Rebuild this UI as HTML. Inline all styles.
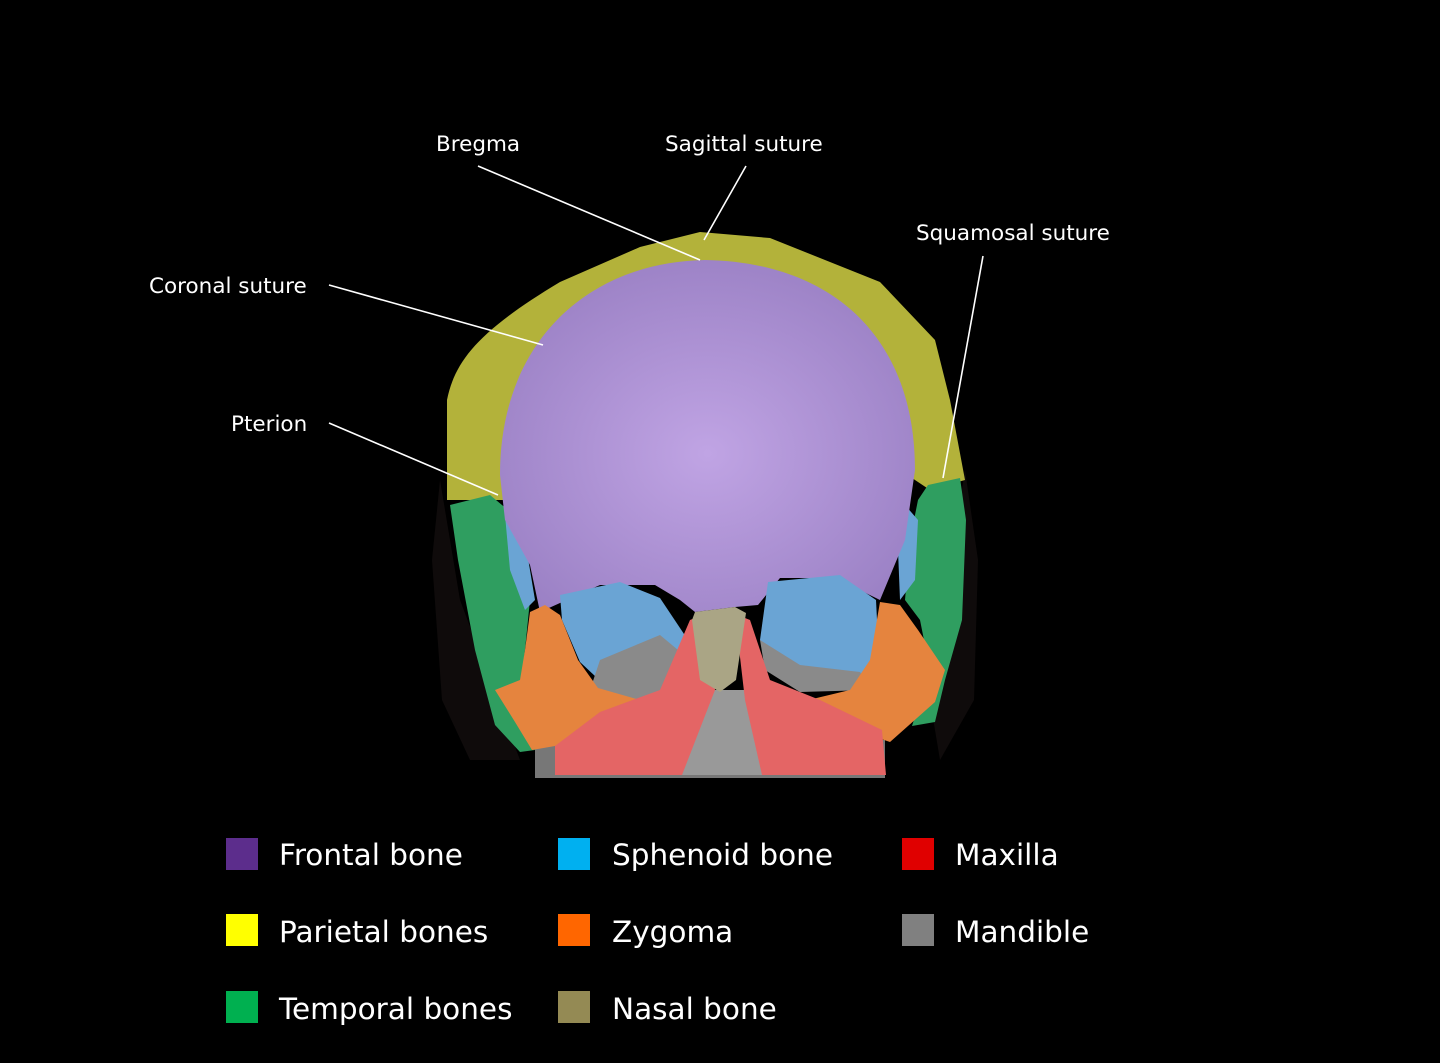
<!DOCTYPE html>
<html><head><style>
html,body{margin:0;padding:0;background:#000;}
svg{display:block}
text{font-family:"DejaVu Sans","Liberation Sans",sans-serif;fill:#fff}
</style></head><body>
<svg width="1440" height="1063" viewBox="0 0 1440 1063" xmlns="http://www.w3.org/2000/svg">
<defs>
<radialGradient id="pg" cx="0.5" cy="0.55" r="0.6">
<stop offset="0" stop-color="#c0a4e4"/><stop offset="1" stop-color="#9a80c4"/></radialGradient>
</defs>
<rect width="1440" height="1063" fill="#000"/>
<path d="M440,480 L432,560 L442,700 L470,760 L520,760 L460,600 Z" fill="#0f0b0b"/>
<path d="M965,470 L978,560 L974,700 L940,760 L930,700 Z" fill="#0f0b0b"/>
<rect x="535" y="740" width="350" height="38" fill="#777"/>
<!-- parietal -->
<path d="M447,500 L447,400 C455,360 480,330 560,282 L640,247 L700,232 L770,238 L880,282 L935,340 L950,400 L965,480 L930,490 L900,470 L520,500 Z" fill="#b3b23a"/>
<path d="M450,505 L490,495 L520,520 L530,600 L525,650 L520,690 L535,750 L520,752 L495,725 L475,650 L458,560 Z" fill="#2f9e60"/>
<path d="M928,485 L960,478 L966,520 L962,620 L945,680 L935,722 L912,726 L930,670 L920,620 L905,600 L910,540 L918,500 Z" fill="#2f9e60"/>
<path d="M505,515 L525,540 L535,600 L525,610 L510,570 Z" fill="#6aa4d4"/>
<path d="M905,505 L918,520 L915,580 L900,600 L898,550 Z" fill="#6aa4d4"/>
<!-- frontal -->
<path d="M500,475 C500,340 590,262 705,260 C830,262 915,335 915,470 L905,540 L880,600 L835,578 L780,578 L758,605 L735,607 L695,612 L680,600 L655,585 L600,585 L540,612 L530,565 L505,520 Z" fill="url(#pg)"/>
<path d="M560,595 L620,582 L660,598 L688,640 L670,682 L612,692 L580,662 L562,620 Z" fill="#6aa4d4"/>
<path d="M600,660 L660,635 L690,660 L680,700 L620,700 L590,690 Z" fill="#8a8a8a"/>
<path d="M768,582 L840,575 L876,600 L880,680 L842,690 L790,680 L760,640 Z" fill="#6aa4d4"/>
<path d="M760,640 L800,665 L860,672 L870,690 L800,692 L765,670 Z" fill="#8a8a8a"/>
<path d="M690,690 L755,690 L770,775 L680,775 Z" fill="#999"/>
<path d="M530,612 L545,605 L560,615 L578,660 L598,688 L640,700 L590,730 L555,746 L532,750 L515,722 L495,690 L520,680 L525,650 Z" fill="#e5843e"/>
<path d="M880,602 L900,605 L918,630 L945,670 L935,702 L890,742 L840,725 L800,702 L850,690 L870,660 Z" fill="#e5843e"/>
<path d="M555,746 L600,712 L660,690 L690,620 L705,614 L715,690 L682,775 L555,775 Z" fill="#e46565"/>
<path d="M735,614 L750,620 L770,680 L820,700 L882,730 L886,775 L762,775 L745,700 Z" fill="#e46565"/>
<path d="M695,612 L735,607 L746,613 L736,680 L720,692 L700,680 L692,620 Z" fill="#aaa585"/>
<g stroke="#fff" stroke-width="1.6" fill="none">
<line x1="478" y1="166" x2="700" y2="260"/>
<line x1="746" y1="166" x2="704" y2="240"/>
<line x1="983" y1="256" x2="943" y2="478"/>
<line x1="329" y1="285" x2="543" y2="345"/>
<line x1="329" y1="423" x2="498" y2="495"/>
</g>
<g font-size="21.5">
<text x="436" y="151">Bregma</text>
<text x="665" y="151">Sagittal suture</text>
<text x="916" y="240">Squamosal suture</text>
<text x="149" y="293">Coronal suture</text>
<text x="231" y="431">Pterion</text>
</g>
<rect x="226" y="838" width="32" height="32" fill="#5c2d8c"/>
<rect x="226" y="914" width="32" height="32" fill="#ffff00"/>
<rect x="226" y="991" width="32" height="32" fill="#00b050"/>
<rect x="558" y="838" width="32" height="32" fill="#00b0f0"/>
<rect x="558" y="914" width="32" height="32" fill="#ff6600"/>
<rect x="558" y="991" width="32" height="32" fill="#948a54"/>
<rect x="902" y="838" width="32" height="32" fill="#e00000"/>
<rect x="902" y="914" width="32" height="32" fill="#808080"/>
<g font-size="29.5">
<text x="279" y="865">Frontal bone</text>
<text x="279" y="942">Parietal bones</text>
<text x="279" y="1019">Temporal bones</text>
<text x="612" y="865">Sphenoid bone</text>
<text x="612" y="942">Zygoma</text>
<text x="612" y="1019">Nasal bone</text>
<text x="955" y="865">Maxilla</text>
<text x="955" y="942">Mandible</text>
</g>
</svg>
</body></html>
